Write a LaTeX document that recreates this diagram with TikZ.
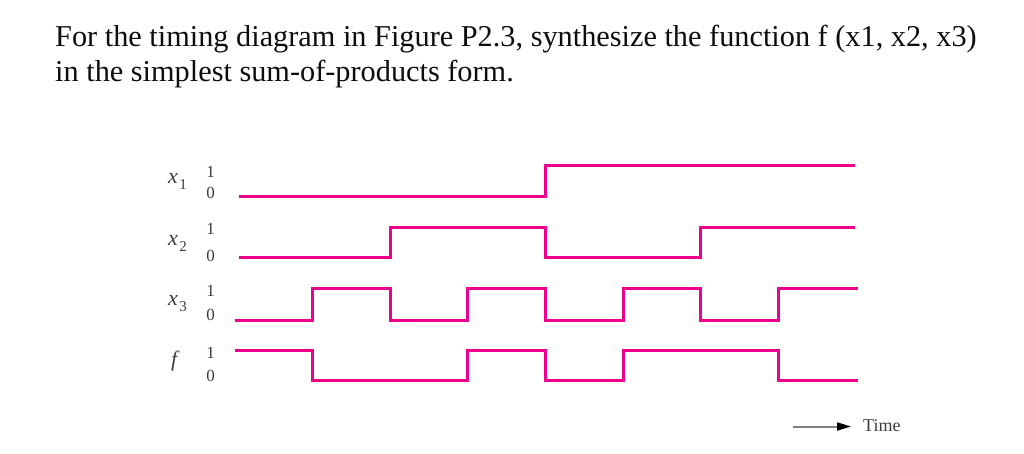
\documentclass[tikz,border=0pt]{standalone}
\usepackage{fontspec}
\setmainfont{Liberation Serif}
\usetikzlibrary{arrows.meta,positioning}
\definecolor{wavepink}{RGB}{236,0,140}
\definecolor{labgray}{RGB}{60,60,60}
\newcommand{\sig}[2]{\textit{#1}\kern1.5pt\raisebox{-0.6ex}{\fontsize{15}{15}\selectfont #2}}

\begin{document}
\begin{tikzpicture}[x=1pt,y=-1pt]
	\tikzstyle{title}=[anchor=base west, inner sep=0, font=\fontsize{30.3}{35}\selectfont, text=black!95]
	\tikzstyle{siglab}=[anchor=base west, inner sep=0, font=\fontsize{22}{22}\selectfont, text=labgray]
	\tikzstyle{lvl}=[anchor=base, inner sep=0, font=\fontsize{17}{17}\selectfont, text=labgray]
	\tikzstyle{wave}=[draw=wavepink, line width=3pt, line join=miter]
	
	\useasboundingbox (0,0) rectangle (1024,453);
	
	\node[title] (line1) at (55,46.7) {For the timing diagram in Figure P2.3, synthesize the function f (x1, x2, x3)};
	\node[title] (line2) at (55,81.7) {in the simplest sum-of-products form.};
	
	\node[siglab] (lx1) at (168,183.5) {\sig{x}{1}};
	\node[siglab] (lx2) at (168,245) {\sig{x}{2}};
	\node[siglab] (lx3) at (168,305.5) {\sig{x}{3}};
	\node[siglab] (lf) at (171,366) {\textit{f}};
	
	\node[lvl] (hx1) at (210.5,177) {1};
	\node[lvl] (ox1) at (210.5,198) {0};
	\node[lvl] (hx2) at (210.5,234) {1};
	\node[lvl] (ox2) at (210.5,261) {0};
	\node[lvl] (hx3) at (210.5,296) {1};
	\node[lvl] (ox3) at (210.5,320) {0};
	\node[lvl] (hf) at (210.5,358.5) {1};
	\node[lvl] (of) at (210.5,381) {0};
	
	\draw[wave] (238.5,196.5) -| (545.4,165.5) -- (855,165.5);
	\draw[wave] (238.5,257.7) -| (390.2,227.2) -| (545.4,257.7) -| (700.6,227.2) -- (855,227.2);
	\draw[wave] (234.5,320) -| (312.6,288.5) -| (390.2,320) -| (467.8,288.5) -| (545.4,320) -| (623,288.5) -| (700.6,320) -| (778.2,288.5) -- (857.5,288.5);
	\draw[wave] (234.5,350.7) -| (312.6,380.7) -| (467.8,350.7) -| (545.4,380.7) -| (623,350.7) -| (778.2,380.7) -- (857.5,380.7);
	
	\coordinate (tstart) at (793,426.5);
	\node[anchor=base west, inner sep=0, font=\fontsize{18}{18}\selectfont, text=labgray] (time) at (863,431.5) {Time};
	\draw[gray, line width=2pt, shorten >=12pt, -{Triangle[length=14pt,width=8pt,black]}] (tstart) -- (tstart -| time.west);
\end{tikzpicture}
\end{document}
